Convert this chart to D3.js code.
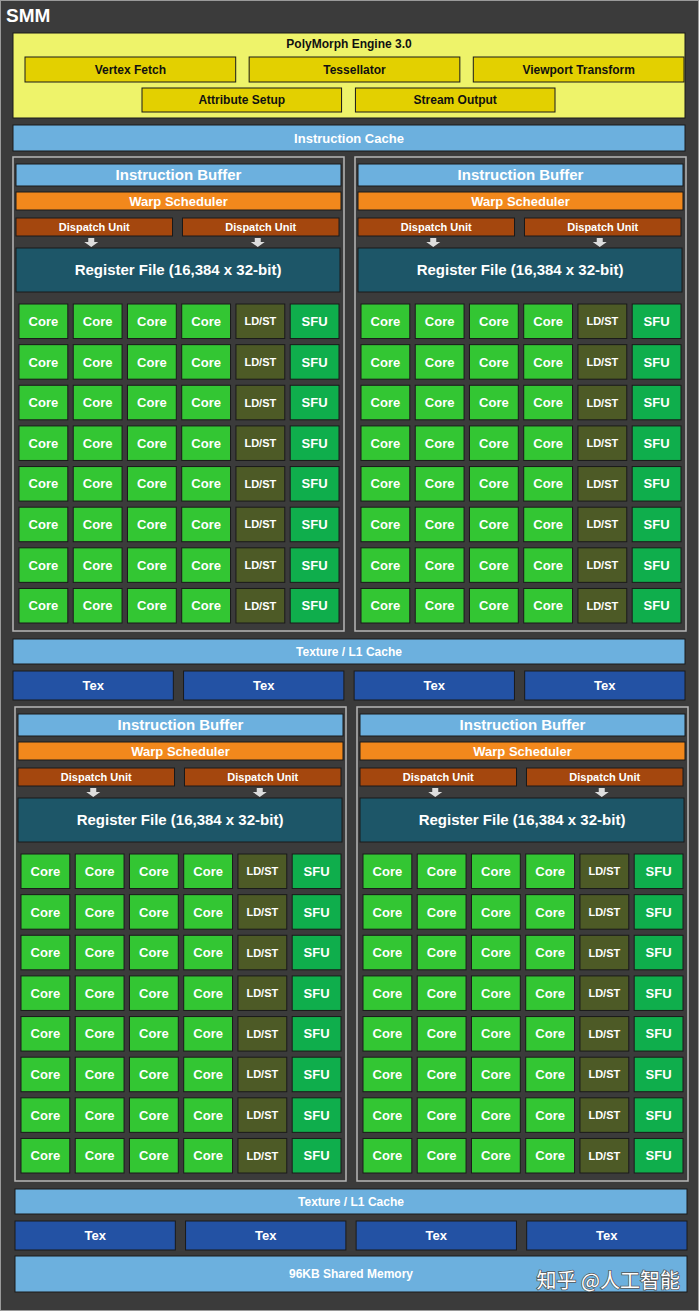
<!DOCTYPE html>
<html><head><meta charset="utf-8">
<script src="https://cdn.jsdelivr.net/npm/d3@7"></script>
<style>body{margin:0;background:#3b3b3b}text{font-family:"Liberation Sans",Arial,sans-serif;font-weight:bold}</style>
</head><body>
<script>
// Diagram content
var polyRow1 = ['Vertex Fetch', 'Tessellator', 'Viewport Transform'];
var polyRow2 = ['Attribute Setup', 'Stream Output'];
var unitCols = ['Core', 'Core', 'Core', 'Core', 'LD/ST', 'SFU'];
var unitRows = [0, 1, 2, 3, 4, 5, 6, 7];
var dispatchUnits = ['Dispatch Unit', 'Dispatch Unit'];
var texUnits = ['Tex', 'Tex', 'Tex', 'Tex'];

var C = {
  bg: '#3b3b3b', poly: '#eef36a', polyBox: '#e3d000', light: '#6cb0de',
  warp: '#f2881c', disp: '#a4470e', reg: '#1d5668', core: '#33c633',
  ldst: '#4d5a26', sfu: '#0fae4c', tex: '#2352a4'
};
var W = 699, H = 1311;
var svg = d3.select('body').append('svg').attr('width', W).attr('height', H);
svg.append('rect').attr('x', 0.5).attr('y', 0.5).attr('width', W - 1).attr('height', H - 1)
  .attr('fill', C.bg).attr('stroke', '#9a9a9a');

function box(g, x, y, w, h, fill, label, size, color, stroke) {
  g.append('rect').attr('x', x).attr('y', y).attr('width', w).attr('height', h)
    .attr('fill', fill).attr('stroke', stroke || '#1a1a1a').attr('stroke-width', 1);
  if (label) {
    g.append('text').attr('x', x + w / 2).attr('y', y + h / 2).attr('dy', '0.36em')
      .attr('text-anchor', 'middle').attr('font-size', size).attr('fill', color || '#fff').text(label);
  }
}

svg.append('text').attr('x', 6).attr('y', 22).attr('font-size', 19).attr('fill', '#fff').text('SMM');

// PolyMorph engine
box(svg, 13, 33, 672, 85, C.poly);
svg.append('text').attr('x', 349).attr('y', 48).attr('text-anchor', 'middle')
  .attr('font-size', 12).attr('fill', '#111').text('PolyMorph Engine 3.0');
var p1 = d3.scaleBand().domain(polyRow1).range([25, 684]).paddingInner(0.06);
polyRow1.forEach(function (d) { box(svg, p1(d), 57, p1.bandwidth(), 25, C.polyBox, d, 12, '#111'); });
var p2 = d3.scaleBand().domain(polyRow2).range([142, 555]).paddingInner(0.065);
polyRow2.forEach(function (d) { box(svg, p2(d), 88, p2.bandwidth(), 24, C.polyBox, d, 12, '#111'); });

box(svg, 13, 125, 672, 26, C.light, 'Instruction Cache', 13);

function smBlock(x0, y0) {
  var g = svg.append('g').attr('transform', 'translate(' + x0 + ',' + y0 + ')');
  g.append('rect').attr('x', 0).attr('y', 0).attr('width', 331).attr('height', 474)
    .attr('fill', 'none').attr('stroke', '#b8b8b8').attr('stroke-width', 1.5);
  box(g, 3, 7, 325, 22, C.light, 'Instruction Buffer', 15);
  box(g, 3, 35, 325, 18, C.warp, 'Warp Scheduler', 13);
  var dx = d3.scaleBand().domain([0, 1]).range([3, 326]).paddingInner(0.06);
  dispatchUnits.forEach(function (d, i) {
    box(g, dx(i), 61, dx.bandwidth(), 18, C.disp, d, 11);
    var cx = dx(i) + dx.bandwidth() / 2 - 3;
    g.append('path').attr('d', 'M' + (cx - 3) + ',81h6v4h4l-7,5l-7,-5h4z').attr('fill', '#ddd');
  });
  box(g, 3, 91, 324, 44, C.reg, 'Register File (16,384 x 32-bit)', 15);
  var xs = d3.scaleBand().domain(d3.range(unitCols.length)).range([6, 326]).paddingInner(0.1);
  var ys = d3.scaleBand().domain(unitRows).range([147, 466]).paddingInner(0.15);
  unitRows.forEach(function (r) {
    unitCols.forEach(function (u, i) {
      var f = u === 'Core' ? C.core : (u === 'SFU' ? C.sfu : C.ldst);
      box(g, xs(i), ys(r), xs.bandwidth(), ys.bandwidth(), f, u, u === 'LD/ST' ? 11 : 13);
    });
  });
}

function half(dx, dy) {
  smBlock(13 + dx, 157 + dy);
  smBlock(355 + dx, 157 + dy);
  box(svg, 13 + dx, 639 + dy, 672, 25, C.light, 'Texture / L1 Cache', 12);
  var tx = d3.scaleBand().domain(d3.range(texUnits.length)).range([13 + dx, 685 + dx]).paddingInner(0.06);
  texUnits.forEach(function (t, i) { box(svg, tx(i), 671 + dy, tx.bandwidth(), 29, C.tex, t, 13); });
}
half(0, 0);
half(2, 550);

box(svg, 15, 1256, 672, 36, C.light, '96KB Shared Memory', 12);
svg.append('text').attr('x', 680).attr('y', 1288).attr('text-anchor', 'end')
  .attr('font-size', 20).attr('font-weight', 'normal').attr('fill', '#fff')
  .attr('style', 'font-family:"Noto Sans CJK SC";font-weight:normal;paint-order:stroke;stroke:#555;stroke-width:1.5px')
  .text('知乎 @人工智能');
</script>
</body></html>
